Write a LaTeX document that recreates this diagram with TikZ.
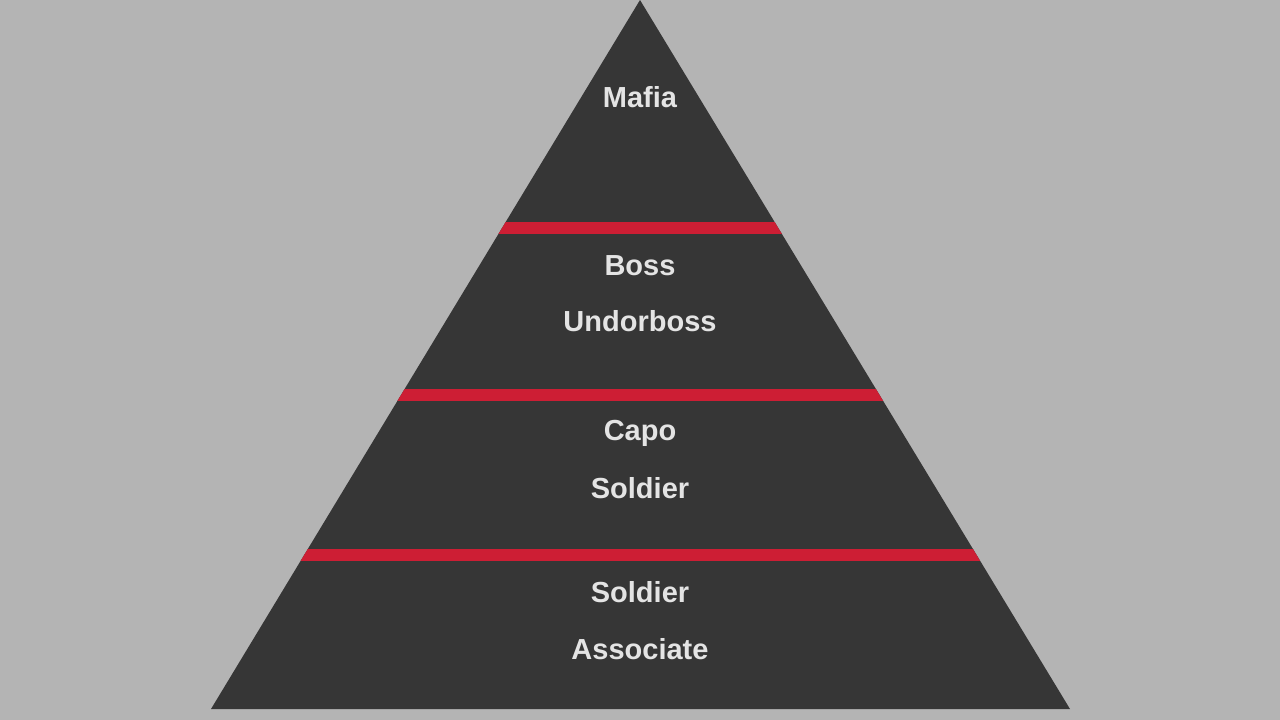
\documentclass[tikz,border=0pt]{standalone}
\usepackage{fontspec}
\setmainfont{Liberation Sans}
\definecolor{bggray}{RGB}{180,180,180}
\definecolor{pyrdark}{RGB}{54,54,54}
\definecolor{bandred}{RGB}{205,30,52}
\definecolor{txtgray}{RGB}{228,228,228}
\tikzset{
  label text/.style={text=txtgray, font=\fontsize{29}{34}\selectfont\bfseries, inner sep=0pt, anchor=center},
  band/.style={draw=bandred, line width=12pt}
}
\begin{document}
\begin{tikzpicture}[x=1pt,y=-1pt]
\fill[bggray] (0,0) rectangle (1280,720);
\useasboundingbox (0,0) rectangle (1280,720);
\coordinate (apex) at (640,0);
\coordinate (bl) at (211,709);
\coordinate (br) at (1070,709);
\fill[pyrdark] (apex) -- (br) -- (bl) -- cycle;
\begin{scope}
  \clip (apex) -- (br) -- (bl) -- cycle;
  \coordinate (b1l) at (0,228); \coordinate (b1r) at (1280,228);
  \coordinate (b2l) at (0,395); \coordinate (b2r) at (1280,395);
  \coordinate (b3l) at (0,555); \coordinate (b3r) at (1280,555);
  \draw[band] (b1l) -- (b1r);
  \draw[band] (b2l) -- (b2r);
  \draw[band] (b3l) -- (b3r);
\end{scope}
\node[label text] (mafia) at (640,97) {Mafia};
\node[label text] (boss) at (640,266) {Boss};
\node[label text] (underboss) at (640,321) {Undorboss};
\node[label text] (capo) at (640,433) {Capo};
\node[label text] (soldier1) at (640,488) {Soldier};
\node[label text] (soldier2) at (640,592) {Soldier};
\node[label text] (associate) at (640,649) {Associate};
\end{tikzpicture}
\end{document}
